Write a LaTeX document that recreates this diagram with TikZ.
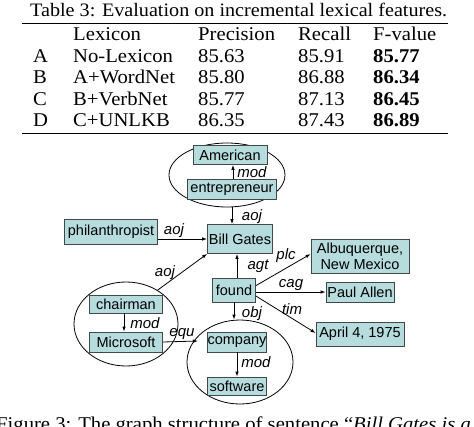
\documentclass[tikz,border=0pt]{standalone}
\usepackage{fontspec}
\setmainfont{Liberation Serif}
\setsansfont{Liberation Sans}
\newfontfamily\tabfont[FakeStretch=1.06]{Liberation Serif}
\usetikzlibrary{shapes.geometric,arrows.meta}
\definecolor{boxc}{HTML}{B6DCDE}
\definecolor{boxd}{HTML}{404848}
\tikzset{
  wbox/.style={draw=boxd, fill=boxc, line width=0.8pt, inner sep=0pt, font=\sffamily\fontsize{14.5}{16}\selectfont, align=center},
  lab/.style={inner sep=0pt, font=\sffamily\itshape\fontsize{15}{16}\selectfont},
  arr/.style={line width=0.8pt, -{Latex[length=5pt,width=3.5pt]}},
  grp/.style={draw, ellipse, line width=0.8pt, inner sep=0pt},
  tt/.style={anchor=base west, inner sep=0pt, font=\tabfont\fontsize{19.5}{22}\selectfont},
  ttb/.style={tt, font=\tabfont\fontsize{19.5}{22}\selectfont\bfseries},
  capt/.style={anchor=base west, inner sep=0pt, font=\tabfont\fontsize{19}{21}\selectfont},
}
\begin{document}
\begin{tikzpicture}[x=1pt,y=-1pt]
\useasboundingbox (0,0) rectangle (474,426);
% ---- table ----
\node[capt] (cap) at (30,16) {Table 3: Evaluation on incremental lexical features.};
\draw[line width=1pt] (22,23) -- (448,23);
\draw[line width=1pt] (22,133) -- (448,133);
\node[tt] (h1) at (73,40) {Lexicon};
\node[tt] (h2) at (198,40) {Precision};
\node[tt] (h3) at (298,40) {Recall};
\node[tt] (h4) at (373,40) {F-value};
\node[tt] (ra) at (33,62) {A};
\node[tt] (ra1) at (73,62) {No-Lexicon};
\node[tt] (ra2) at (198,62) {85.63};
\node[tt] (ra3) at (298,62) {85.91};
\node[ttb] (ra4) at (373,62) {85.77};
\node[tt] (rb) at (33,83) {B};
\node[tt] (rb1) at (73,83) {A+WordNet};
\node[tt] (rb2) at (198,83) {85.80};
\node[tt] (rb3) at (298,83) {86.88};
\node[ttb] (rb4) at (373,83) {86.34};
\node[tt] (rc) at (33,105) {C};
\node[tt] (rc1) at (73,105) {B+VerbNet};
\node[tt] (rc2) at (198,105) {85.77};
\node[tt] (rc3) at (298,105) {87.13};
\node[ttb] (rc4) at (373,105) {86.45};
\node[tt] (rd) at (33,126) {D};
\node[tt] (rd1) at (73,126) {C+UNLKB};
\node[tt] (rd2) at (198,126) {86.35};
\node[tt] (rd3) at (298,126) {87.43};
\node[ttb] (rd4) at (373,126) {86.89};
% ---- graph ----
\node[grp, minimum width=116pt, minimum height=64pt] (topell) at (227,175) {};
\node[grp, minimum width=104pt, minimum height=84pt] (leftell) at (126,324) {};
\node[grp, minimum width=106pt, minimum height=84pt] (rightell) at (240,362) {};

\node[wbox, minimum width=74pt, minimum height=19pt] (american) at (230,155) {American};
\node[wbox, minimum width=89pt, minimum height=20pt] (entre) at (232,189) {entrepreneur};
\node[wbox, minimum width=65pt, minimum height=29pt] (bill) at (240,239) {Bill Gates};
\node[wbox, minimum width=93pt, minimum height=25pt] (phil) at (111,232) {philanthropist};
\node[wbox, minimum width=98pt, minimum height=34pt] (albu) at (360,256) {Albuquerque,\\New Mexico};
\node[wbox, minimum width=43pt, minimum height=24pt] (found) at (234,290) {found};
\node[wbox, minimum width=68pt, minimum height=20pt] (paul) at (360,292) {Paul Allen};
\node[wbox, minimum width=88pt, minimum height=24pt] (april) at (360,334) {April 4, 1975};
\node[wbox, minimum width=73pt, minimum height=18pt] (chair) at (126,304) {chairman};
\node[wbox, minimum width=73pt, minimum height=20pt] (micro) at (126,342) {Microsoft};
\node[wbox, minimum width=59pt, minimum height=20pt] (company) at (237,342) {company};
\node[wbox, minimum width=59pt, minimum height=18pt] (soft) at (237,386) {software};

\coordinate (equend) at (198,341);

\draw[arr] (entre.north -| 233,0) -- (american.south -| 233,0);
\draw[arr] (topell.south -| 232,0) -- (bill.north -| 232,0);
\draw[arr] (phil.east |- bill.west) -- (bill.west);
\draw[arr] (leftell.47) -- (bill.south west);
\draw[arr] (found.north -| 237,0) -- (bill.south -| 237,0);
\draw[arr] (found.north east) ++(0,8) -- (albu.west |- 0,254);
\draw[arr] (found.east |- 0,292) -- (paul.west |- 0,292);
\draw[arr] (found.east |- 0,296) -- (april.west |- 0,333);
\draw[arr] (found.south) -- (rightell.north -| found.south);
\draw[arr] (chair.south -| 124,0) -- (micro.north -| 124,0);
\draw[arr] (micro.east) -- (equend);
\draw[arr] (company.south) -- (soft.north);

\node[lab] (l1) at (252,172) {mod};
\node[lab] (l2) at (252,217) {aoj};
\node[lab] (l3) at (174,231) {aoj};
\node[lab] (l4) at (165,273) {aoj};
\node[lab] (l5) at (258,266) {agt};
\node[lab] (l6) at (286,256) {plc};
\node[lab] (l7) at (291,285) {cag};
\node[lab] (l8) at (292,309) {tim};
\node[lab] (l9) at (252,314) {obj};
\node[lab] (l10) at (145,323) {mod};
\node[lab] (l11) at (182,334) {equ};
\node[lab] (l12) at (256,362) {mod};
% ---- bottom caption (cut off, as in the reference) ----
\begin{scope}
\clip (0,0) rectangle (474,426);
\node[tt] (fig) at (-4,430) {Figure 3: The graph structure of sentence “\textit{Bill Gates is a}};
\end{scope}
\end{tikzpicture}
\end{document}
